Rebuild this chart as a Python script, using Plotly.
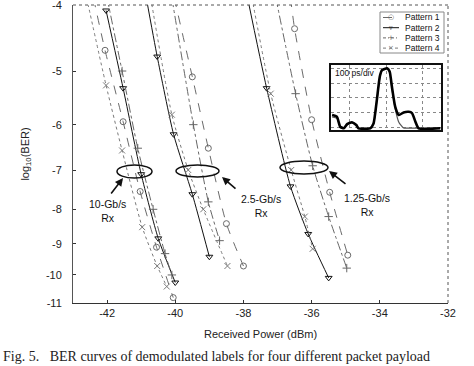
import math
import plotly.graph_objects as go

patterns = ["Pattern 1", "Pattern 2", "Pattern 3", "Pattern 4"]

# ---- 10-Gb/s Rx : received power (dBm), log10(BER)
g10_p1_x = [-42.40, -42.06, -41.53, -41.03, -40.55, -40.06]
g10_p1_y = [-3.9, -4.66, -5.94, -7.53, -9.1, -10.8]
g10_p2_x = [-42.03, -41.53, -41.00, -40.50, -40.00]
g10_p2_y = [-4.07, -5.3, -7.1, -8.83, -10.26]
g10_p3_x = [-42.00, -41.56, -41.10, -40.65, -40.30, -40.10]
g10_p3_y = [-3.9, -5.0, -6.5, -8.0, -9.3, -10.0]
g10_p4_x = [-42.60, -42.03, -41.56, -40.97, -40.53, -40.25]
g10_p4_y = [-3.9, -5.25, -6.55, -8.5, -9.7, -10.4]

# ---- 2.5-Gb/s Rx
g25_p1_x = [-40.03, -39.50, -39.03, -38.50, -38.00]
g25_p1_y = [-3.9, -5.1, -6.5, -8.4, -9.7]
g25_p2_x = [-40.85, -40.53, -40.05, -39.50, -39.00]
g25_p2_y = [-3.9, -4.76, -6.2, -7.6, -9.4]
g25_p3_x = [-40.10, -39.47, -39.03, -38.70]
g25_p3_y = [-3.9, -6.0, -7.8, -8.9]
g25_p4_x = [-40.72, -40.10, -39.62, -39.18, -38.47]
g25_p4_y = [-3.9, -5.8, -7.0, -8.0, -9.7]

# ---- 1.25-Gb/s Rx
g125_p1_x = [-36.62, -36.50, -36.00, -35.47, -34.94]
g125_p1_y = [-3.9, -4.33, -5.9, -7.55, -9.35]
g125_p2_x = [-37.88, -37.32, -36.62, -36.10, -35.50]
g125_p2_y = [-3.9, -5.3, -7.4, -8.7, -10.1]
g125_p3_x = [-37.05, -36.47, -35.97, -35.50, -34.97]
g125_p3_y = [-3.9, -5.4, -6.9, -8.2, -9.77]
g125_p4_x = [-37.75, -37.20, -36.60, -36.20, -35.97]
g125_p4_y = [-3.9, -5.4, -7.0, -8.2, -9.15]

x_ticks = [-42, -40, -38, -36, -34, -32]
y_ticks = [-4, -5, -6, -7, -8, -9, -10, -11]

# ---- inset pulse (time in ps, normalised amplitude)
inset_t = [3, 16, 25, 35, 44, 57, 69, 75, 107, 116, 125, 133, 139, 153, 160, 166, 175, 185, 198, 212, 221, 230, 239, 298]
inset_a = [0.23, 0.205, 0.05, 0.026, 0.09, 0.12, 0.077, 0.026, 0.026, 0.10, 0.46, 0.82, 0.92, 0.95, 0.90, 0.67, 0.36, 0.23, 0.27, 0.28, 0.26, 0.13, 0.026, 0.026]
inset_b = [0.20, 0.18, 0.06, 0.03, 0.08, 0.11, 0.07, 0.03, 0.03, 0.09, 0.44, 0.80, 0.91, 0.94, 0.88, 0.64, 0.33, 0.12, 0.03, 0.03, 0.03, 0.03, 0.03, 0.03]

styles = {
    "Pattern 1": dict(color="#6a6a6a", dash="dash", symbol="circle-open", glyph="○"),
    "Pattern 2": dict(color="#111111", dash="solid", symbol="triangle-down-open", glyph="▿"),
    "Pattern 3": dict(color="#666666", dash="dashdot", symbol="cross-thin-open", glyph="+"),
    "Pattern 4": dict(color="#7a7a7a", dash="dot", symbol="x-thin-open", glyph="×"),
}

groups = [
    [(g10_p1_x, g10_p1_y), (g10_p2_x, g10_p2_y), (g10_p3_x, g10_p3_y), (g10_p4_x, g10_p4_y)],
    [(g25_p1_x, g25_p1_y), (g25_p2_x, g25_p2_y), (g25_p3_x, g25_p3_y), (g25_p4_x, g25_p4_y)],
    [(g125_p1_x, g125_p1_y), (g125_p2_x, g125_p2_y), (g125_p3_x, g125_p3_y), (g125_p4_x, g125_p4_y)],
]

fig = go.Figure()
for gi, grp in enumerate(groups):
    for name, (xs, ys) in zip(patterns, grp):
        st = styles[name]
        fig.add_trace(go.Scatter(
            x=xs, y=[-v for v in ys], mode="lines+markers", name=name,
            legendgroup=name, showlegend=False,
            line=dict(color=st["color"], dash=st["dash"], width=1, shape="spline", smoothing=0.6),
            marker=dict(symbol=st["symbol"], size=6, color=st["color"],
                        line=dict(width=1, color=st["color"])),
        ))

# inset traces
fig.add_trace(go.Scatter(x=inset_t, y=inset_b, xaxis="x2", yaxis="y2", mode="lines",
                         line=dict(color="#555", width=1.2, shape="spline", smoothing=0.5),
                         showlegend=False, hoverinfo="skip"))
fig.add_trace(go.Scatter(x=inset_t, y=inset_a, xaxis="x2", yaxis="y2", mode="lines",
                         line=dict(color="#000", width=2.6, shape="spline", smoothing=0.5),
                         showlegend=False, hoverinfo="skip"))

L, R, T, B = 73, 26, 5, 63
W, H = 474, 366
pw, ph = W - L - R, H - T - B

def px(xp):
    return (xp - L) / pw

def py(yp):
    return (H - B - yp) / ph

axis_font = dict(family="Liberation Sans, Arial", size=11, color="#222")

fig.update_layout(
    width=W, height=H, margin=dict(l=L, r=R, t=T, b=B, autoexpand=False),
    paper_bgcolor="white", plot_bgcolor="white",
    font=axis_font, showlegend=False,
    xaxis=dict(range=[-43, -32], tickvals=x_ticks, ticktext=[str(v) for v in x_ticks],
               ticks="inside", ticklen=3, tickcolor="#333", showgrid=False, zeroline=False,
               showline=True, linecolor="#333", linewidth=1, automargin=False,
               ticklabeloverflow="allow",
               title=dict(text="Received Power (dBm)", font=axis_font, standoff=12)),
    yaxis=dict(type="log", range=[math.log10(11.0), math.log10(3.995)],
               tickvals=[-v for v in y_ticks], ticktext=[str(v) for v in y_ticks],
               ticks="inside", ticklen=3, tickcolor="#333", showgrid=False, zeroline=False,
               showline=True, linecolor="#555", linewidth=1, ticklabelstandoff=8, automargin=False,
               ticklabeloverflow="allow",
               title=dict(text="log<sub>10</sub>(BER)", font=axis_font, standoff=14)),
    xaxis2=dict(domain=[px(331), px(441)], anchor="y2", range=[0, 300],
                showticklabels=False, ticks="", tick0=50, dtick=100,
                showgrid=True, gridcolor="#888", griddash="dot", gridwidth=1,
                zeroline=False, showline=True, mirror=True, linecolor="#111", linewidth=1.5),
    yaxis2=dict(domain=[py(130), py(65)], anchor="x2", range=[0, 1.0],
                showticklabels=False, ticks="", tick0=0.27, dtick=0.225,
                showgrid=True, gridcolor="#888", griddash="dot", gridwidth=1,
                zeroline=False, showline=True, mirror=True, linecolor="#111", linewidth=1.5),
)

shapes = [
    dict(type="line", xref="paper", yref="paper", x0=0, x1=1, y0=1, y1=1,
         line=dict(color="#555", width=1, dash="dot")),
    dict(type="line", xref="paper", yref="paper", x0=1, x1=1, y0=0, y1=1,
         line=dict(color="#555", width=1, dash="dot")),
]
for (x0, x1, y0, y1) in [(117, 152, 165, 178), (176, 219, 165, 177), (280, 328, 161, 174)]:
    shapes.append(dict(type="circle", xref="paper", yref="paper",
                       x0=px(x0), x1=px(x1), y0=py(y1), y1=py(y0),
                       line=dict(color="#111", width=1.5)))

ann = []
# ---- legend box (drawn by hand to match the compact original)
shapes.append(dict(type="rect", xref="paper", yref="paper",
                   x0=px(380), x1=px(444), y0=py(53), y1=py(12),
                   line=dict(color="#888", width=1), fillcolor="white", layer="above"))
legend_font = dict(family="Liberation Sans, Arial", size=8.5, color="#111")
for i, name in enumerate(patterns):
    st = styles[name]
    ry = 17.5 + i * 10.2
    shapes.append(dict(type="line", xref="paper", yref="paper",
                       x0=px(383), x1=px(399), y0=py(ry), y1=py(ry), layer="above",
                       line=dict(color=st["color"], width=1,
                                 dash=st["dash"] if st["dash"] != "dashdot" else "3px,2px,1px,2px")))
    ann.append(dict(text=st["glyph"], xref="paper", yref="paper", x=px(391), y=py(ry),
                    xanchor="center", yanchor="middle",
                    showarrow=False, font=dict(family="DejaVu Sans", size=7, color=st["color"])))
    ann.append(dict(text=name, xref="paper", yref="paper", x=px(403), y=py(ry),
                    xanchor="left", yanchor="middle", showarrow=False, font=legend_font))

fig.update_layout(shapes=shapes)

label_font = dict(family="Liberation Sans, Arial", size=10.5, color="#111")
for (txt, cx, cy) in [("10-Gb/s<br>Rx", 107, 211), ("2.5-Gb/s<br>Rx", 261, 206), ("1.25-Gb/s<br>Rx", 367, 205)]:
    ann.append(dict(text=txt, xref="paper", yref="paper", x=px(cx), y=py(cy),
                    xanchor="center", yanchor="middle",
                    showarrow=False, font=label_font, align="center"))
for (hx, hy, ax, ay) in [(123, 178, -13, 17), (222, 177, 15, 13), (329, 171, 18, 14)]:
    ann.append(dict(text="", xref="paper", yref="paper", x=px(hx), y=py(hy),
                    ax=ax, ay=ay, showarrow=True, arrowhead=2, arrowsize=1,
                    arrowwidth=1.6, arrowcolor="#111", standoff=0))
ann.append(dict(text="100 ps/div", xref="paper", yref="paper", x=px(333), y=py(66),
                xanchor="left", yanchor="top", showarrow=False,
                font=dict(family="Liberation Sans, Arial", size=8.5, color="#111")))
ann.append(dict(text="Fig. 5.&nbsp;&nbsp;&nbsp;BER curves of demodulated labels for four different packet payload",
                xref="paper", yref="paper", x=px(1), y=py(366), xanchor="left", yanchor="bottom",
                showarrow=False, font=dict(family="Liberation Serif, Times New Roman", size=14, color="#222")))
fig.update_layout(annotations=ann)

# remove the browser's default page margin so the figure sits at the window origin
fig.write_html("out.html", config={"displayModeBar": False},
               post_script="document.body.style.margin='0px';document.body.style.padding='0px';")
